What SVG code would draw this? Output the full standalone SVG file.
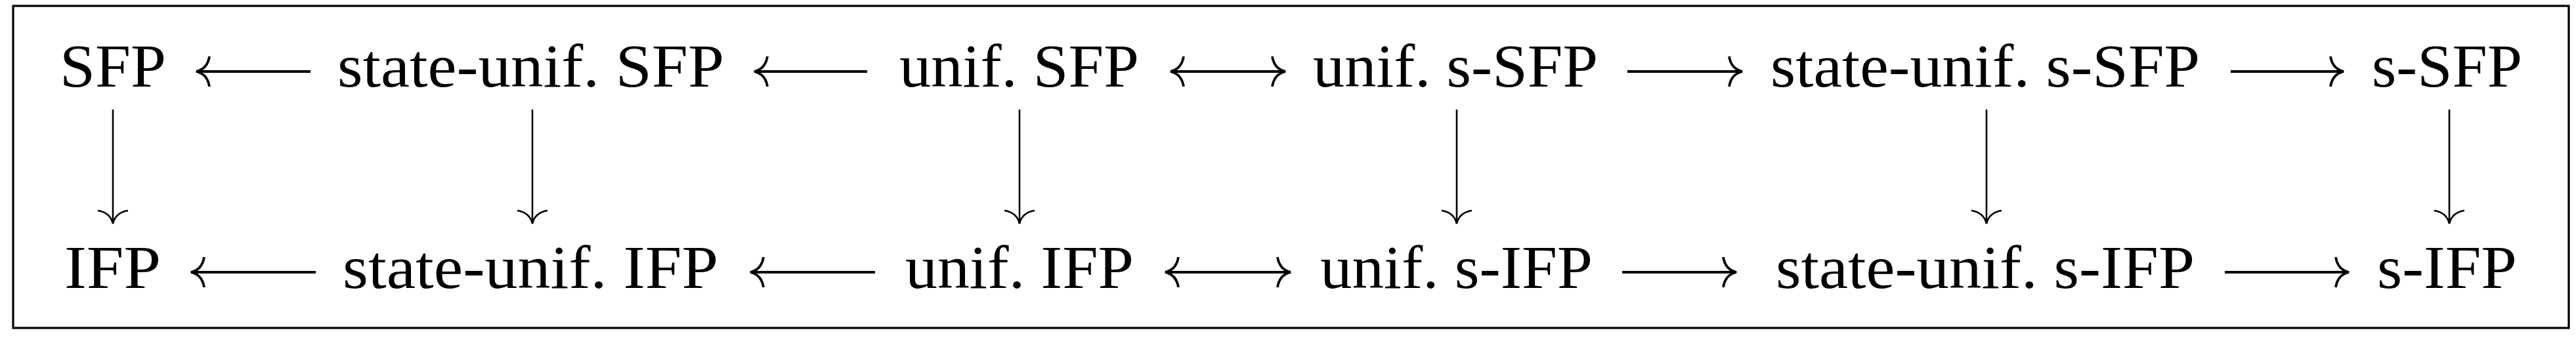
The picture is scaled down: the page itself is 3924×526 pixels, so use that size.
<svg xmlns="http://www.w3.org/2000/svg" width="3924" height="526" viewBox="0 0 3924 526">
<style>
text{font-family:"Liberation Serif","Times New Roman",serif;font-size:94px;fill:#000;text-anchor:start}
.c line{stroke:#000;fill:none}
.h{stroke-width:4}
.v{stroke-width:2.6}
</style>
<defs>
<marker id="ah" markerUnits="userSpaceOnUse" viewBox="-24 -26 28 52" refX="0" refY="0" markerWidth="28" markerHeight="52" orient="auto-start-reverse">
<path d="M-20,-23 Q-17,-4 0,0 Q-17,4 -20,23" fill="none" stroke="#000" stroke-width="3.8"/>
</marker>
<marker id="av" markerUnits="userSpaceOnUse" viewBox="-24 -26 28 52" refX="0" refY="0" markerWidth="28" markerHeight="52" orient="auto">
<path d="M-20,-23 Q-17,-4 0,0 Q-17,4 -20,23" fill="none" stroke="#000" stroke-width="2.6"/>
</marker>
</defs>
<rect x="20" y="9" width="3893" height="491" fill="#fff" stroke="#000" stroke-width="3.2"/>
<g id="n-sfp"><text x="91" y="132" textLength="162" lengthAdjust="spacingAndGlyphs">SFP</text></g>
<g id="n-su-sfp"><text x="514" y="132" textLength="589" lengthAdjust="spacingAndGlyphs">state-unif. SFP</text></g>
<g id="n-u-sfp"><text x="1370" y="132" textLength="365" lengthAdjust="spacingAndGlyphs">unif. SFP</text></g>
<g id="n-u-ssfp"><text x="2000" y="132" textLength="434" lengthAdjust="spacingAndGlyphs">unif. s-SFP</text></g>
<g id="n-su-ssfp"><text x="2697" y="132" textLength="654" lengthAdjust="spacingAndGlyphs">state-unif. s-SFP</text></g>
<g id="n-ssfp"><text x="3613" y="132" textLength="229" lengthAdjust="spacingAndGlyphs">s-SFP</text></g>
<g id="n-ifp"><text x="98" y="439" textLength="147" lengthAdjust="spacingAndGlyphs">IFP</text></g>
<g id="n-su-ifp"><text x="522" y="439" textLength="572" lengthAdjust="spacingAndGlyphs">state-unif. IFP</text></g>
<g id="n-u-ifp"><text x="1379" y="439" textLength="348" lengthAdjust="spacingAndGlyphs">unif. IFP</text></g>
<g id="n-u-sifp"><text x="2011" y="439" textLength="415" lengthAdjust="spacingAndGlyphs">unif. s-IFP</text></g>
<g id="n-su-sifp"><text x="2705" y="439" textLength="638" lengthAdjust="spacingAndGlyphs">state-unif. s-IFP</text></g>
<g id="n-sifp"><text x="3621" y="439" textLength="213" lengthAdjust="spacingAndGlyphs">s-IFP</text></g>
<g id="connectors" class="c">
<line class="h" x1="473" y1="109" x2="299" y2="109" marker-end="url(#ah)"/>
<line class="h" x1="1321" y1="109" x2="1149" y2="109" marker-end="url(#ah)"/>
<line class="h" x1="1783" y1="109" x2="1958" y2="109" marker-start="url(#ah)" marker-end="url(#ah)"/>
<line class="h" x1="2479" y1="109" x2="2654" y2="109" marker-end="url(#ah)"/>
<line class="h" x1="3398" y1="109" x2="3570" y2="109" marker-end="url(#ah)"/>
<line class="h" x1="481" y1="415" x2="291" y2="415" marker-end="url(#ah)"/>
<line class="h" x1="1333" y1="415" x2="1143" y2="415" marker-end="url(#ah)"/>
<line class="h" x1="1775" y1="415" x2="1966" y2="415" marker-start="url(#ah)" marker-end="url(#ah)"/>
<line class="h" x1="2471" y1="415" x2="2645" y2="415" marker-end="url(#ah)"/>
<line class="h" x1="3389" y1="415" x2="3578" y2="415" marker-end="url(#ah)"/>
<line class="v" x1="172" y1="167" x2="172" y2="341" marker-end="url(#av)"/>
<line class="v" x1="811" y1="167" x2="811" y2="341" marker-end="url(#av)"/>
<line class="v" x1="1553" y1="167" x2="1553" y2="341" marker-end="url(#av)"/>
<line class="v" x1="2219" y1="167" x2="2219" y2="341" marker-end="url(#av)"/>
<line class="v" x1="3026" y1="167" x2="3026" y2="341" marker-end="url(#av)"/>
<line class="v" x1="3731" y1="167" x2="3731" y2="341" marker-end="url(#av)"/>
</g>
</svg>
